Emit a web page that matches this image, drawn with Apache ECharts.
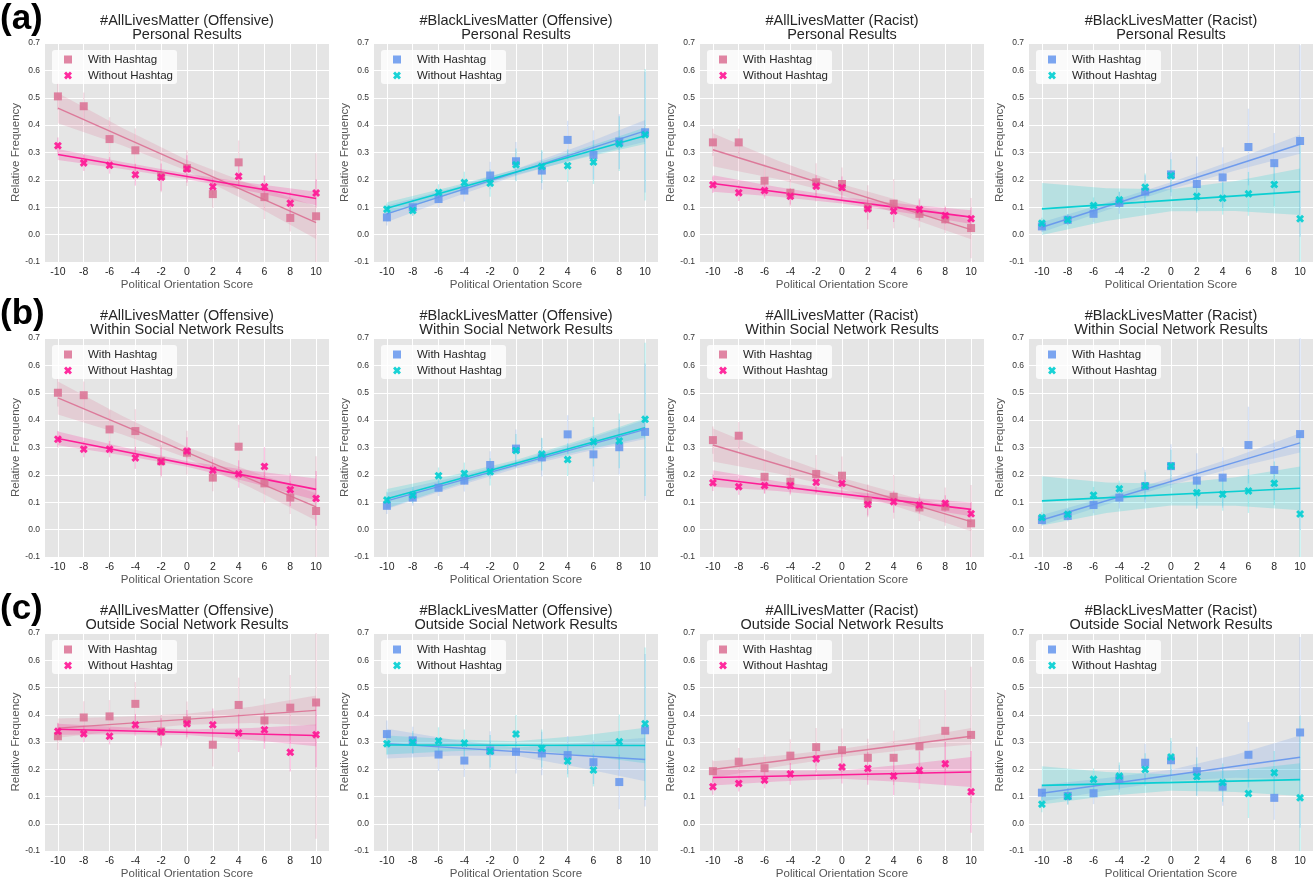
<!DOCTYPE html>
<html><head><meta charset="utf-8">
<script src="https://cdn.jsdelivr.net/npm/echarts@6/dist/echarts.min.js"></script>
<style>html,body{margin:0;padding:0;background:#fff}#c{width:1315px;height:881px}</style>
</head><body><div id="c"></div>
<script>
// ---------- shared axes ----------
const xValues = [-10,-8,-6,-4,-2,0,2,4,6,8,10];
const fitX = [-10, 10];
const bandX = [-10,-5,0,5,10];
const yMin = -0.1, yMax = 0.7, yStep = 0.1;
const legendLabels = ['With Hashtag', 'Without Hashtag'];
const titleLine1 = ['#AllLivesMatter (Offensive)','#BlackLivesMatter (Offensive)','#AllLivesMatter (Racist)','#BlackLivesMatter (Racist)'];
const titleLine2 = ['Personal Results','Within Social Network Results','Outside Social Network Results'];
const rowLabels = ['(a)','(b)','(c)'];

// ---------- panel 1: ALM Offensive, Personal ----------
const p1WithY = [0.505,0.469,0.349,0.308,0.215,0.243,0.148,0.264,0.137,0.061,0.067];
const p1WithErr = [0.05,0.05,0.08,0.08,0.06,0.065,0.05,0.08,0.08,0.05,0.23];
const p1WoY = [0.325,0.262,0.253,0.219,0.21,0.24,0.175,0.213,0.175,0.115,0.152];
const p1WoErr = [0.03,0.03,0.03,0.04,0.05,0.05,0.03,0.04,0.04,0.04,0.05];
const p1WithFit = [0.462,0.044];
const p1WoFit = [0.293,0.132];
const p1WithBand = [0.055,0.032,0.02,0.035,0.06];
const p1WoBand = [0.02,0.013,0.01,0.015,0.025];
// ---------- panel 2: BLM Offensive, Personal ----------
const p2WithY = [0.063,0.1,0.13,0.161,0.216,0.268,0.234,0.346,0.291,0.34,0.374];
const p2WithErr = [0.03,0.03,0.03,0.04,0.05,0.07,0.07,0.07,0.09,0.1,0.22];
const p2WoY = [0.093,0.088,0.154,0.19,0.188,0.255,0.249,0.252,0.265,0.332,0.365];
const p2WoErr = [0.02,0.02,0.03,0.04,0.05,0.06,0.06,0.06,0.08,0.1,0.24];
const p2WithFit = [0.076,0.379];
const p2WoFit = [0.096,0.361];
const p2WithBand = [0.03,0.018,0.012,0.022,0.04];
const p2WoBand = [0.022,0.014,0.01,0.017,0.03];
// ---------- panel 3: ALM Racist, Personal ----------
const p3WithY = [0.337,0.337,0.197,0.153,0.191,0.185,0.1,0.113,0.076,0.056,0.024];
const p3WithErr = [0.05,0.05,0.06,0.05,0.07,0.06,0.08,0.09,0.05,0.05,0.11];
const p3WoY = [0.182,0.153,0.161,0.14,0.177,0.172,0.094,0.086,0.092,0.07,0.058];
const p3WoErr = [0.03,0.03,0.03,0.03,0.04,0.04,0.04,0.04,0.04,0.03,0.04];
const p3WithFit = [0.31,0.018];
const p3WoFit = [0.187,0.064];
const p3WithBand = [0.06,0.034,0.02,0.026,0.035];
const p3WoBand = [0.03,0.018,0.012,0.016,0.025];
// ---------- panel 4: BLM Racist, Personal ----------
const p4WithY = [0.03,0.054,0.076,0.116,0.157,0.22,0.185,0.209,0.32,0.261,0.342];
const p4WithErr = [0.02,0.02,0.03,0.04,0.06,0.08,0.1,0.11,0.14,0.11,0.35];
const p4WoY = [0.042,0.054,0.106,0.127,0.173,0.215,0.14,0.133,0.149,0.183,0.058];
const p4WoErr = [0.02,0.02,0.03,0.03,0.05,0.06,0.06,0.06,0.08,0.08,0.3];
const p4WithFit = [0.027,0.33];
const p4WoFit = [0.094,0.157];
const p4WithBand = [0.018,0.014,0.013,0.02,0.035];
const p4WoBand = [0.095,0.06,0.04,0.055,0.085];
// ---------- panel 5: ALM Offensive, Within ----------
const p5WithY = [0.5,0.491,0.366,0.36,0.25,0.281,0.19,0.303,0.169,0.117,0.068];
const p5WithErr = [0.05,0.05,0.07,0.08,0.06,0.08,0.05,0.08,0.07,0.06,0.2];
const p5WoY = [0.33,0.294,0.294,0.262,0.248,0.287,0.217,0.203,0.231,0.146,0.114];
const p5WoErr = [0.03,0.03,0.03,0.04,0.05,0.05,0.04,0.05,0.07,0.06,0.1];
const p5WithFit = [0.481,0.083];
const p5WoFit = [0.333,0.147];
const p5WithBand = [0.06,0.034,0.02,0.03,0.05];
const p5WoBand = [0.025,0.015,0.01,0.022,0.04];
// ---------- panel 6: BLM Offensive, Within ----------
const p6WithY = [0.087,0.117,0.153,0.179,0.236,0.296,0.264,0.348,0.275,0.301,0.357];
const p6WithErr = [0.03,0.03,0.03,0.04,0.05,0.07,0.07,0.07,0.1,0.1,0.25];
const p6WoY = [0.108,0.126,0.197,0.205,0.211,0.289,0.276,0.256,0.321,0.324,0.403];
const p6WoErr = [0.03,0.03,0.03,0.04,0.05,0.06,0.06,0.06,0.09,0.1,0.28];
const p6WithFit = [0.105,0.366];
const p6WoFit = [0.113,0.372];
const p6WithBand = [0.03,0.018,0.012,0.02,0.035];
const p6WoBand = [0.035,0.02,0.012,0.02,0.035];
// ---------- panel 7: ALM Racist, Within ----------
const p7WithY = [0.327,0.343,0.193,0.175,0.203,0.197,0.105,0.12,0.081,0.084,0.023];
const p7WithErr = [0.05,0.05,0.06,0.05,0.07,0.07,0.06,0.08,0.05,0.07,0.14];
const p7WoY = [0.171,0.157,0.161,0.161,0.173,0.169,0.092,0.102,0.09,0.096,0.058];
const p7WoErr = [0.03,0.03,0.03,0.03,0.04,0.04,0.04,0.04,0.03,0.03,0.04];
const p7WithFit = [0.309,0.029];
const p7WoFit = [0.187,0.074];
const p7WithBand = [0.06,0.034,0.02,0.026,0.035];
const p7WoBand = [0.03,0.018,0.012,0.016,0.025];
// ---------- panel 8: BLM Racist, Within ----------
const p8WithY = [0.035,0.05,0.09,0.117,0.159,0.232,0.179,0.19,0.309,0.218,0.349];
const p8WithErr = [0.02,0.02,0.03,0.04,0.06,0.08,0.1,0.11,0.14,0.11,0.35];
const p8WoY = [0.044,0.056,0.126,0.149,0.16,0.232,0.135,0.129,0.141,0.169,0.057];
const p8WoErr = [0.02,0.02,0.03,0.03,0.05,0.06,0.06,0.06,0.08,0.08,0.3];
const p8WithFit = [0.035,0.317];
const p8WoFit = [0.105,0.151];
const p8WithBand = [0.018,0.014,0.013,0.02,0.035];
const p8WoBand = [0.09,0.056,0.04,0.052,0.08];
// ---------- panel 9: ALM Offensive, Outside ----------
const p9WithY = [0.321,0.39,0.394,0.44,0.339,0.379,0.29,0.436,0.379,0.426,0.445];
const p9WithErr = [0.05,0.06,0.06,0.08,0.06,0.07,0.08,0.1,0.08,0.12,0.5];
const p9WoY = [0.339,0.33,0.321,0.363,0.337,0.367,0.363,0.333,0.345,0.262,0.327];
const p9WoErr = [0.03,0.03,0.03,0.04,0.05,0.05,0.06,0.07,0.07,0.07,0.12];
const p9WithFit = [0.351,0.416];
const p9WoFit = [0.347,0.324];
const p9WithBand = [0.035,0.025,0.02,0.03,0.055];
const p9WoBand = [0.02,0.013,0.01,0.022,0.04];
// ---------- panel 10: BLM Offensive, Outside ----------
const p10WithY = [0.329,0.306,0.254,0.232,0.269,0.264,0.258,0.252,0.226,0.153,0.343];
const p10WithErr = [0.05,0.05,0.06,0.06,0.07,0.08,0.08,0.07,0.08,0.1,0.28];
const p10WoY = [0.294,0.299,0.304,0.296,0.266,0.329,0.276,0.23,0.197,0.301,0.367];
const p10WoErr = [0.04,0.04,0.05,0.05,0.06,0.07,0.07,0.06,0.06,0.1,0.28];
const p10WithFit = [0.294,0.236];
const p10WoFit = [0.289,0.287];
const p10WithBand = [0.055,0.03,0.015,0.045,0.08];
const p10WoBand = [0.035,0.022,0.015,0.035,0.065];
// ---------- panel 11: ALM Racist, Outside ----------
const p11WithY = [0.193,0.228,0.204,0.25,0.281,0.27,0.242,0.242,0.284,0.341,0.326];
const p11WithErr = [0.04,0.05,0.05,0.06,0.07,0.08,0.07,0.1,0.1,0.15,0.25];
const p11WoY = [0.136,0.148,0.16,0.183,0.238,0.208,0.203,0.175,0.196,0.22,0.117];
const p11WoErr = [0.03,0.03,0.03,0.04,0.05,0.06,0.06,0.07,0.07,0.08,0.15];
const p11WithFit = [0.199,0.321];
const p11WoFit = [0.17,0.19];
const p11WithBand = [0.03,0.02,0.015,0.02,0.03];
const p11WoBand = [0.03,0.02,0.015,0.033,0.055];
// ---------- panel 12: BLM Racist, Outside ----------
const p12WithY = [0.114,0.102,0.112,0.165,0.224,0.233,0.193,0.136,0.253,0.095,0.335];
const p12WithErr = [0.03,0.03,0.04,0.05,0.07,0.07,0.09,0.07,0.12,0.08,0.35];
const p12WoY = [0.072,0.1,0.163,0.175,0.199,0.245,0.173,0.151,0.111,0.187,0.095];
const p12WoErr = [0.03,0.03,0.04,0.05,0.06,0.07,0.07,0.07,0.09,0.08,0.3];
const p12WithFit = [0.112,0.244];
const p12WoFit = [0.141,0.162];
const p12WithBand = [0.03,0.023,0.02,0.042,0.08];
const p12WoBand = [0.07,0.044,0.03,0.04,0.06];

const palettes = { alm: ['#DB7093', '#FF1493'], blm: ['#6495ED', '#00CED1'] };

const panels = [
  [p1WithY,p1WithErr,p1WoY,p1WoErr,p1WithFit,p1WoFit,p1WithBand,p1WoBand,'alm'],
  [p2WithY,p2WithErr,p2WoY,p2WoErr,p2WithFit,p2WoFit,p2WithBand,p2WoBand,'blm'],
  [p3WithY,p3WithErr,p3WoY,p3WoErr,p3WithFit,p3WoFit,p3WithBand,p3WoBand,'alm'],
  [p4WithY,p4WithErr,p4WoY,p4WoErr,p4WithFit,p4WoFit,p4WithBand,p4WoBand,'blm'],
  [p5WithY,p5WithErr,p5WoY,p5WoErr,p5WithFit,p5WoFit,p5WithBand,p5WoBand,'alm'],
  [p6WithY,p6WithErr,p6WoY,p6WoErr,p6WithFit,p6WoFit,p6WithBand,p6WoBand,'blm'],
  [p7WithY,p7WithErr,p7WoY,p7WoErr,p7WithFit,p7WoFit,p7WithBand,p7WoBand,'alm'],
  [p8WithY,p8WithErr,p8WoY,p8WoErr,p8WithFit,p8WoFit,p8WithBand,p8WoBand,'blm'],
  [p9WithY,p9WithErr,p9WoY,p9WoErr,p9WithFit,p9WoFit,p9WithBand,p9WoBand,'alm'],
  [p10WithY,p10WithErr,p10WoY,p10WoErr,p10WithFit,p10WoFit,p10WithBand,p10WoBand,'blm'],
  [p11WithY,p11WithErr,p11WoY,p11WoErr,p11WithFit,p11WoFit,p11WithBand,p11WoBand,'alm'],
  [p12WithY,p12WithErr,p12WoY,p12WoErr,p12WithFit,p12WoFit,p12WithBand,p12WoBand,'blm']
];

// ---------- layout / style ----------
const gridLefts = [45, 374, 700, 1029];
const gridTops = [43, 338, 633];
const gridW = 284, gridH = 219;
const FONT = '"Liberation Sans", Arial, sans-serif';
const xPath = 'path://M0,2.6L2.6,0L5,2.4L7.4,0L10,2.6L7.6,5L10,7.4L7.4,10L5,7.6L2.6,10L0,7.4L2.4,5Z';

const grids = [], xAxes = [], yAxes = [], series = [], legends = [], graphics = [];

function bandSeries(i, fit, band, color) {
  return {
    type: 'custom', xAxisIndex: i, yAxisIndex: i, z: 1, silent: true, clip: true,
    data: [[fitX[0], fit[0]]],
    renderItem: function (params, api) {
      const center = x => fit[0] + (fit[1] - fit[0]) * (x - fitX[0]) / (fitX[1] - fitX[0]);
      const pts = [];
      bandX.forEach((x, k) => pts.push(api.coord([x, center(x) + band[k]])));
      for (let k = bandX.length - 1; k >= 0; k--) pts.push(api.coord([bandX[k], center(bandX[k]) - band[k]]));
      return { type: 'polygon', shape: { points: pts }, style: { fill: color, opacity: 0.2 } };
    }
  };
}
function errSeries(i, ys, errs, color) {
  return {
    type: 'custom', xAxisIndex: i, yAxisIndex: i, z: 2, silent: true,
    data: xValues.map((x, k) => [x, ys[k] - errs[k], ys[k] + errs[k]]),
    encode: { x: 0, y: [1, 2] },
    renderItem: function (params, api) {
      const a = api.coord([api.value(0), api.value(1)]);
      const b = api.coord([api.value(0), api.value(2)]);
      const cs = params.coordSys;
      const cl = v => Math.max(cs.y, Math.min(cs.y + cs.height, v));
      return { type: 'line', shape: { x1: a[0], y1: cl(a[1]), x2: b[0], y2: cl(b[1]) },
        style: { stroke: color, lineWidth: 1.3, opacity: 0.25 } };
    }
  };
}

panels.forEach((p, i) => {
  const [wY, wE, oY, oE, wFit, oFit, wBand, oBand, pal] = p;
  const [cW, cO] = palettes[pal];
  const r = Math.floor(i / 4), c = i % 4;
  const left = gridLefts[c], top = gridTops[r];
  grids.push({ left: left, top: top, width: gridW, height: gridH, show: true, backgroundColor: '#E5E5E5', borderWidth: 0 });
  xAxes.push({
    gridIndex: i, type: 'value', min: -11, max: 11,
    name: 'Political Orientation Score', nameLocation: 'middle', nameGap: 17,
    nameTextStyle: { fontSize: 11.5, color: '#555', fontFamily: FONT },
    axisLine: { show: false },
    axisTick: { show: false, customValues: xValues },
    axisLabel: { customValues: xValues, fontSize: 10.5, color: '#262626', margin: 5, fontFamily: FONT },
    splitLine: { show: true, lineStyle: { color: '#ffffff', width: 1 } }
  });
  yAxes.push({
    gridIndex: i, type: 'value', min: yMin, max: yMax, interval: yStep,
    name: 'Relative Frequency', nameLocation: 'middle', nameGap: 22,
    nameTextStyle: { fontSize: 11.5, color: '#555', fontFamily: FONT },
    axisLine: { show: false }, axisTick: { show: false },
    axisLabel: { fontSize: 8.5, color: '#333', margin: 5, fontFamily: FONT,
      formatter: v => (Math.abs(v) < 1e-9 ? '0.0' : v.toFixed(1)) },
    splitLine: { show: true, lineStyle: { color: '#ffffff', width: 1 } }
  });
  const wName = legendLabels[0] + '|' + i, oName = legendLabels[1] + '|' + i;
  series.push(bandSeries(i, wFit, wBand, cW));
  series.push(bandSeries(i, oFit, oBand, cO));
  series.push(errSeries(i, wY, wE, cW));
  series.push(errSeries(i, oY, oE, cO));
  series.push({ type: 'line', xAxisIndex: i, yAxisIndex: i, z: 3, silent: true, showSymbol: false,
    data: fitX.map((x, k) => [x, wFit[k]]), lineStyle: { color: cW, width: 1.4, opacity: 0.9 }, itemStyle: { color: cW } });
  series.push({ type: 'line', xAxisIndex: i, yAxisIndex: i, z: 3, silent: true, showSymbol: false,
    data: fitX.map((x, k) => [x, oFit[k]]), lineStyle: { color: cO, width: 1.6, opacity: 0.95 }, itemStyle: { color: cO } });
  series.push({ type: 'scatter', name: wName, xAxisIndex: i, yAxisIndex: i, z: 4, silent: true,
    data: xValues.map((x, k) => [x, wY[k]]), symbol: 'rect', symbolSize: 8,
    itemStyle: { color: cW, opacity: 0.85 } });
  series.push({ type: 'scatter', name: oName, xAxisIndex: i, yAxisIndex: i, z: 4, silent: true,
    data: xValues.map((x, k) => [x, oY[k]]), symbol: xPath, symbolSize: 8,
    itemStyle: { color: cO, opacity: 0.9 } });
  legends.push({
    left: left + 7, top: top + 7, orient: 'vertical', selectedMode: false,
    data: [{ name: wName, icon: 'rect' }, { name: oName, icon: xPath }],
    formatter: n => n.split('|')[0],
    itemWidth: 8, itemHeight: 8, itemGap: 3,
    padding: [3, 4, 2, 12],
    backgroundColor: 'rgba(255,255,255,0.8)', borderRadius: 3,
    textStyle: { fontSize: 11.5, color: '#262626', fontFamily: FONT, lineHeight: 13, padding: [0, 0, 0, 11] }
  });
  const cx = left + gridW / 2;
  graphics.push({ type: 'text', x: cx, y: top - 22, silent: true,
    style: { text: titleLine1[c], fill: '#262626', font: '14.5px ' + FONT, textAlign: 'center', textVerticalAlign: 'middle' } });
  graphics.push({ type: 'text', x: cx, y: top - 8, silent: true,
    style: { text: titleLine2[r], fill: '#262626', font: '14.5px ' + FONT, textAlign: 'center', textVerticalAlign: 'middle' } });
});
rowLabels.forEach((t, r) => {
  graphics.push({ type: 'text', x: 0, y: gridTops[r] - 24, silent: true,
    style: { text: t, fill: '#000', font: 'bold 35px ' + FONT, textAlign: 'left', textVerticalAlign: 'middle' } });
});

const chart = echarts.init(document.getElementById('c'));
chart.setOption({
  animation: false,
  backgroundColor: '#ffffff',
  grid: grids, xAxis: xAxes, yAxis: yAxes, series: series, legend: legends, graphic: graphics
});
</script>
</body></html>
